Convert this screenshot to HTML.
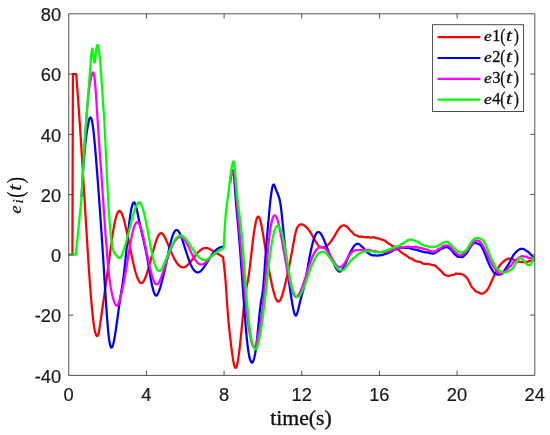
<!DOCTYPE html>
<html><head><meta charset="utf-8"><title>e_i(t)</title>
<style>
html,body{margin:0;padding:0;background:#fff;}
svg{display:block;}
.tick{font-family:"Liberation Sans",Arial,sans-serif;font-size:18.3px;fill:#1a1a1a;stroke:#1a1a1a;stroke-width:0.2px;}
.ser{font-family:"Liberation Serif","Times New Roman",serif;fill:#111;}
.thick{stroke:#111;stroke-width:0.33px;}
.curve{fill:none;stroke-width:2.25;stroke-linejoin:round;stroke-linecap:butt;}
</style></head>
<body>
<svg width="550" height="435" viewBox="0 0 550 435">
<rect x="0" y="0" width="550" height="435" fill="#fff"/>
<defs><clipPath id="ax"><rect x="68.75" y="13.8" width="466.05" height="361.6"/></clipPath></defs>
<g clip-path="url(#ax)">
<path class="curve" stroke="#ff0000" d="M72.4 254.6L72.9 74.0L76.2 74.0L76.7 80.6L77.2 87.3L77.7 94.0L78.2 100.9L78.7 107.8L79.2 115.0L79.7 122.3L80.2 129.7L80.7 137.3L81.2 145.1L81.7 152.9L82.2 160.9L82.7 169.0L83.2 177.1L83.7 185.3L84.2 193.6L84.7 201.9L85.2 210.2L85.7 218.4L86.2 226.6L86.7 234.8L87.2 242.8L87.7 250.7L88.2 258.4L88.7 266.0L89.2 273.3L89.7 280.4L90.2 287.1L90.7 293.6L91.2 299.7L91.7 305.5L92.2 310.8L92.7 315.6L93.2 320.0L93.7 323.8L94.2 327.2L94.7 330.0L95.2 332.3L95.7 334.0L96.2 335.2L96.7 335.9L97.2 336.0L97.7 335.6L98.2 334.5L98.7 332.7L99.2 330.2L99.7 327.1L100.2 323.6L100.8 319.9L101.3 316.1L101.8 312.5L102.3 308.9L102.8 305.3L103.3 301.8L103.8 298.3L104.3 294.9L104.8 291.4L105.3 288.0L105.8 284.5L106.3 280.9L106.8 277.4L107.3 273.7L107.8 270.0L108.3 266.3L108.8 262.4L109.3 258.6L109.8 254.8L110.3 251.0L110.8 247.3L111.3 243.6L111.8 240.1L112.3 236.7L112.8 233.4L113.3 230.3L113.8 227.4L114.3 224.8L114.8 222.3L115.3 220.1L115.8 218.0L116.3 216.3L116.8 214.7L117.3 213.4L117.8 212.4L118.3 211.6L118.8 211.1L119.3 210.9L119.8 211.0L120.3 211.3L120.8 211.8L121.3 212.6L121.8 213.6L122.3 214.8L122.8 216.2L123.3 217.7L123.8 219.4L124.3 221.3L124.8 223.2L125.3 225.2L125.8 227.4L126.3 229.6L126.8 231.9L127.3 234.2L127.8 236.6L128.3 239.0L128.8 241.5L129.3 243.9L129.8 246.4L130.3 248.9L130.8 251.3L131.3 253.8L131.8 256.2L132.3 258.5L132.8 260.8L133.3 263.1L133.8 265.2L134.3 267.3L134.8 269.3L135.3 271.2L135.8 273.0L136.3 274.6L136.8 276.1L137.3 277.5L137.8 278.8L138.3 279.9L138.8 280.8L139.3 281.6L139.8 282.2L140.3 282.7L140.8 283.0L141.3 283.0L141.8 282.9L142.3 282.7L142.8 282.2L143.3 281.6L143.8 280.9L144.3 280.0L144.8 278.9L145.3 277.8L145.8 276.5L146.3 275.2L146.8 273.7L147.3 272.1L147.8 270.5L148.3 268.8L148.8 267.0L149.3 265.2L149.9 263.4L150.4 261.5L150.9 259.6L151.4 257.6L151.9 255.7L152.4 253.8L152.9 251.9L153.4 250.1L153.9 248.2L154.4 246.5L154.9 244.8L155.4 243.2L155.9 241.6L156.4 240.2L156.9 238.8L157.4 237.6L157.9 236.5L158.4 235.5L158.9 234.7L159.4 234.1L159.9 233.6L160.4 233.3L160.9 233.1L161.4 233.2L161.9 233.4L162.4 233.8L162.9 234.3L163.4 234.9L163.9 235.7L164.4 236.5L164.9 237.4L165.4 238.4L165.9 239.5L166.4 240.6L166.9 241.7L167.4 242.9L167.9 244.1L168.4 245.3L168.9 246.5L169.4 247.7L169.9 248.9L170.4 250.1L170.9 251.3L171.4 252.4L171.9 253.6L172.4 254.7L172.9 255.8L173.4 256.9L173.9 257.9L174.4 258.9L174.9 259.8L175.4 260.7L175.9 261.5L176.4 262.3L176.9 263.1L177.4 263.7L177.9 264.4L178.4 264.9L178.9 265.4L179.4 265.9L179.9 266.3L180.4 266.6L180.9 266.9L181.4 267.1L181.9 267.3L182.4 267.4L182.9 267.4L183.4 267.4L183.9 267.3L184.4 267.1L184.9 266.9L185.4 266.7L185.9 266.4L186.4 266.0L186.9 265.6L187.4 265.2L187.9 264.7L188.4 264.2L188.9 263.7L189.4 263.1L189.9 262.6L190.4 262.0L190.9 261.4L191.4 260.7L191.9 260.1L192.4 259.4L192.9 258.8L193.4 258.1L193.9 257.5L194.4 256.8L194.9 256.2L195.4 255.5L195.9 254.9L196.4 254.3L196.9 253.7L197.4 253.1L197.9 252.5L198.4 252.0L199.0 251.5L199.5 251.0L200.0 250.5L200.5 250.1L201.0 249.7L201.5 249.4L202.0 249.1L202.5 248.8L203.0 248.6L203.5 248.4L204.0 248.2L204.5 248.1L205.0 248.0L205.5 248.0L206.0 248.0L206.5 248.0L207.0 248.1L207.5 248.2L208.0 248.3L208.5 248.5L209.0 248.7L209.5 249.0L210.0 249.2L210.5 249.5L211.0 249.8L211.5 250.1L212.0 250.4L212.5 250.7L213.0 251.0L213.5 251.3L214.0 251.6L214.5 251.9L215.0 252.2L215.5 252.5L216.0 252.8L216.5 253.1L217.0 253.4L217.5 253.7L218.0 254.0L218.5 254.3L219.0 254.6L219.5 254.9L220.0 255.2L220.5 255.5L221.0 255.8L221.5 256.1L222.0 256.4L222.5 256.7L223.0 257.0L223.5 261.0L224.0 265.2L224.5 269.7L225.0 274.7L225.5 280.4L226.0 287.0L226.5 294.4L227.0 302.0L227.5 309.0L228.0 315.2L228.5 321.0L229.0 326.2L229.5 331.0L230.0 335.6L230.5 340.0L231.0 344.3L231.5 348.4L232.0 352.3L232.5 355.9L233.0 359.2L233.5 362.0L234.0 364.4L234.5 366.2L235.0 367.4L235.5 368.0L236.0 367.8L236.5 366.9L237.0 365.3L237.5 363.1L238.0 360.4L238.5 357.2L239.0 353.5L239.5 349.4L240.0 345.0L240.5 340.3L241.0 335.4L241.5 330.4L242.0 325.2L242.5 320.1L243.0 315.0L243.5 310.1L244.0 305.4L244.5 301.0L245.0 296.9L245.5 293.2L246.0 290.0L246.5 287.3L247.0 284.9L247.5 282.6L248.0 280.0L248.5 277.0L249.0 273.6L249.5 269.8L250.0 265.8L250.5 261.5L251.0 257.2L251.5 252.8L252.0 248.4L252.5 244.1L253.0 240.0L253.5 236.1L254.0 232.5L254.5 229.2L255.0 226.2L255.5 223.6L256.0 221.3L256.5 219.5L257.0 218.0L257.5 217.1L258.0 216.5L258.5 216.5L259.0 217.0L259.5 218.0L260.0 219.4L260.5 221.1L261.0 223.2L261.5 225.6L262.0 228.2L262.5 231.0L263.0 233.9L263.5 236.9L264.0 240.0L264.5 243.1L265.0 246.2L265.5 249.2L266.0 252.3L266.5 255.3L267.0 258.3L267.5 261.2L268.0 264.1L268.5 267.0L269.0 269.8L269.5 272.5L270.0 275.2L270.5 277.8L271.0 280.3L271.5 282.7L272.0 285.0L272.5 287.2L273.0 289.3L273.5 291.3L274.0 293.1L274.5 294.8L275.0 296.4L275.5 297.7L276.0 298.9L276.5 299.9L277.0 300.7L277.5 301.2L278.0 301.5L278.5 301.6L279.0 301.4L279.5 301.0L280.0 300.4L280.5 299.5L281.0 298.5L281.5 297.3L282.0 295.9L282.5 294.3L283.0 292.7L283.5 290.9L284.0 289.0L284.5 287.0L285.0 285.0L285.5 282.9L286.0 280.8L286.5 278.6L287.0 276.4L287.5 274.1L288.0 271.8L288.5 269.4L289.0 267.0L289.5 264.5L290.0 262.0L290.5 259.4L291.0 256.8L291.5 254.2L292.0 251.5L292.5 248.8L293.0 246.0L293.5 243.2L294.0 240.4L294.5 237.7L295.0 235.2L295.5 233.0L296.0 231.0L296.5 229.4L297.0 228.1L297.5 227.1L298.0 226.4L298.5 225.8L299.0 225.3L299.5 224.9L300.0 224.6L300.5 224.4L301.0 224.3L301.5 224.3L302.0 224.4L302.5 224.5L303.0 224.7L303.5 225.0L304.0 225.3L304.5 225.6L305.0 226.0L305.5 226.4L306.0 226.9L306.5 227.3L307.0 227.9L307.5 228.4L308.0 229.0L308.5 229.6L309.0 230.3L309.5 231.0L310.0 231.7L310.5 232.5L311.0 233.3L311.5 234.1L312.0 235.0L312.5 235.9L313.0 236.8L313.5 237.7L314.0 238.6L314.5 239.5L315.0 240.4L315.5 241.2L316.0 242.1L316.5 242.9L317.0 243.7L317.5 244.4L318.0 245.1L318.5 245.7L319.0 246.2L319.5 246.6L320.0 247.0L320.5 247.3L321.0 247.5L321.5 247.6L322.0 247.6L322.5 247.6L323.0 247.6L323.5 247.4L324.0 247.3L324.5 247.1L325.0 246.9L325.5 246.7L326.0 246.4L326.5 246.1L327.0 245.7L327.5 245.3L328.0 244.9L328.5 244.4L329.0 243.9L329.5 243.3L330.0 242.7L330.5 242.1L331.0 241.4L331.5 240.7L332.0 240.0L332.5 239.2L333.0 238.4L333.5 237.6L334.0 236.8L334.5 235.9L335.0 235.1L335.5 234.2L336.0 233.3L336.5 232.4L337.0 231.6L337.5 230.8L338.0 230.0L338.5 229.3L339.0 228.6L339.5 227.9L340.0 227.4L340.5 226.9L341.0 226.4L341.5 226.1L342.0 225.8L342.5 225.5L343.0 225.4L343.5 225.3L344.0 225.3L344.5 225.4L345.0 225.6L345.5 225.9L346.0 226.2L346.5 226.5L347.0 226.9L347.5 227.3L348.0 227.7L348.5 228.2L349.0 228.8L349.5 229.5L350.0 230.1L350.5 230.7L351.0 231.2L351.5 231.7L352.0 232.1L352.5 232.6L353.0 233.1L353.5 233.7L354.0 234.2L354.5 234.7L355.0 235.0L355.5 235.2L356.0 235.4L356.5 235.5L357.0 235.6L357.5 235.9L358.0 236.2L358.5 236.5L359.0 236.8L359.5 236.8L360.0 236.8L360.5 236.7L361.0 236.7L361.5 236.6L362.0 236.7L362.5 236.8L363.0 236.8L363.5 236.9L364.0 237.0L364.5 237.1L365.0 237.2L365.5 237.3L366.0 237.4L366.5 237.3L367.0 237.3L367.5 237.2L368.0 237.1L368.5 237.2L369.0 237.3L369.5 237.4L370.0 237.5L370.5 237.5L371.0 237.5L371.5 237.4L372.0 237.4L372.5 237.4L373.0 237.4L373.5 237.4L374.0 237.4L374.5 237.4L375.0 237.6L375.5 237.7L376.0 237.9L376.5 238.1L377.0 238.3L377.5 238.4L378.0 238.5L378.5 238.6L379.0 238.7L379.5 238.8L380.0 239.0L380.5 239.2L381.0 239.4L381.5 239.5L382.0 239.7L382.5 239.8L383.0 239.9L383.5 240.1L384.0 240.3L384.5 240.6L385.0 240.8L385.5 241.1L386.0 241.5L386.5 241.9L387.0 242.4L387.5 242.8L388.0 243.2L388.5 243.5L389.0 243.8L389.5 244.1L390.0 244.4L390.5 244.7L391.0 245.0L391.5 245.4L392.0 245.7L392.5 245.9L393.0 246.1L393.5 246.3L394.0 246.5L394.5 246.8L395.0 247.1L395.5 247.3L396.0 247.6L396.5 247.9L397.0 248.4L397.5 248.8L398.0 249.3L398.5 249.8L399.0 250.3L399.5 250.7L400.0 251.1L400.5 251.6L401.0 252.0L401.5 252.4L402.0 252.8L402.5 253.2L403.0 253.6L403.5 253.9L404.0 254.2L404.5 254.4L405.0 254.7L405.5 255.0L406.0 255.3L406.5 255.7L407.0 256.1L407.5 256.4L408.0 256.8L408.5 257.2L409.0 257.6L409.5 258.0L410.0 258.2L410.5 258.3L411.0 258.5L411.5 258.6L412.0 258.7L412.5 259.1L413.0 259.5L413.5 259.8L414.0 260.2L414.5 260.5L415.0 260.8L415.5 261.0L416.0 261.2L416.5 261.4L417.0 261.5L417.5 261.5L418.0 261.6L418.5 261.6L419.0 261.7L419.5 261.8L420.0 262.0L420.5 262.1L421.0 262.3L421.5 262.6L422.0 263.0L422.5 263.3L423.0 263.6L423.5 263.7L424.0 263.8L424.5 263.8L425.0 263.9L425.5 263.9L426.0 263.9L426.5 263.9L427.0 263.9L427.5 263.9L428.0 264.0L428.5 264.0L429.0 264.1L429.5 264.2L430.0 264.3L430.5 264.5L431.0 264.7L431.5 264.9L432.0 265.0L432.5 265.1L433.0 265.1L433.5 265.2L434.0 265.3L434.5 265.5L435.0 265.7L435.5 266.0L436.0 266.3L436.5 266.7L437.0 267.2L437.5 267.7L438.0 268.3L438.5 268.8L439.0 269.2L439.5 269.6L440.0 270.0L440.5 270.4L441.0 270.9L441.5 271.5L442.0 272.0L442.5 272.6L443.0 273.1L443.5 273.6L444.0 274.1L444.5 274.6L445.0 275.0L445.5 275.2L446.0 275.4L446.5 275.5L447.0 275.6L447.5 275.7L448.0 275.8L448.5 275.9L449.0 275.8L449.5 275.8L450.0 275.6L450.5 275.5L451.0 275.3L451.5 275.1L452.0 275.0L452.5 275.0L453.0 274.9L453.5 274.9L454.0 274.7L454.5 274.4L455.0 274.1L455.5 273.8L456.0 273.5L456.5 273.6L457.0 273.7L457.5 273.8L458.0 273.9L458.5 273.9L459.0 273.9L459.5 273.8L460.0 273.8L460.5 273.8L461.0 274.0L461.5 274.1L462.0 274.3L462.5 274.5L463.0 274.8L463.5 275.0L464.0 275.3L464.5 275.7L465.0 276.1L465.5 276.5L466.0 277.0L466.5 277.5L467.0 278.1L467.5 278.9L468.0 279.8L468.5 280.7L469.0 281.6L469.5 282.6L470.0 283.6L470.5 284.7L471.0 285.7L471.5 286.6L472.0 287.3L472.5 287.8L473.0 288.3L473.5 288.8L474.0 289.4L474.5 290.0L475.0 290.6L475.5 291.1L476.0 291.5L476.5 291.7L477.0 292.0L477.5 292.1L478.0 292.3L478.5 292.6L479.0 292.8L479.5 293.1L480.0 293.2L480.5 293.4L481.0 293.6L481.5 293.6L482.0 293.7L482.5 293.7L483.0 293.4L483.5 293.1L484.0 292.8L484.5 292.4L485.0 292.1L485.5 291.7L486.0 291.3L486.5 290.8L487.0 290.2L487.5 289.5L488.0 288.8L488.5 287.9L489.0 287.0L489.5 286.0L490.0 284.8L490.5 283.7L491.0 282.5L491.5 281.4L492.0 280.3L492.5 279.2L493.0 278.1L493.5 277.0L494.0 275.8L494.5 274.7L495.0 273.6L495.5 272.6L496.0 271.7L496.5 270.8L497.0 270.0L497.5 269.2L498.0 268.4L498.5 267.5L499.0 266.7L499.5 265.9L500.0 265.1L500.5 264.5L501.0 264.0L501.5 263.5L502.0 263.0L502.5 262.5L503.0 262.0L503.5 261.5L504.0 261.1L504.5 260.7L505.0 260.3L505.5 259.9L506.0 259.6L506.5 259.3L507.0 259.1L507.5 258.9L508.0 258.7L508.5 258.7L509.0 258.6L509.5 258.6L510.0 258.6L510.5 258.7L511.0 258.8L511.5 258.9L512.0 259.1L512.5 259.3L513.0 259.6L513.5 259.8L514.0 259.9L514.5 260.0L515.0 260.2L515.5 260.3L516.0 260.6L516.5 260.9L517.0 261.2L517.5 261.4L518.0 261.6L518.5 261.6L519.0 261.7L519.5 261.8L520.0 261.8L520.5 261.9L521.0 262.0L521.5 262.0L522.0 262.1L522.5 262.1L523.0 262.2L523.5 262.2L524.0 262.2L524.5 262.3L525.0 262.3L525.5 262.4L526.0 262.4L526.5 262.3L527.0 262.1L527.5 261.8L528.0 261.6L528.5 261.3L529.0 261.2L529.5 261.1L530.0 261.1L530.5 261.0L531.0 260.9L531.5 260.8L532.0 260.6L532.5 260.5L533.0 260.3L533.5 260.0L534.0 259.8L534.5 259.5"/>
<path class="curve" stroke="#0000ff" d="M81.5 197.0L82.0 188.2L82.5 179.8L83.0 172.0L83.5 165.0L84.0 158.8L84.5 153.0L85.0 147.6L85.5 142.4L86.0 137.9L86.5 134.2L87.0 130.9L87.5 127.9L88.0 124.9L88.5 122.2L89.0 119.9L89.5 118.5L90.0 117.7L90.5 117.5L91.0 117.9L91.5 119.0L92.0 120.9L92.5 123.7L93.0 127.1L93.5 131.2L94.0 135.9L94.5 141.0L95.0 146.5L95.5 152.3L96.0 158.4L96.5 164.6L97.0 170.9L97.5 177.4L98.0 184.0L98.5 190.7L99.0 197.5L99.5 204.4L100.0 211.4L100.5 218.5L101.0 225.7L101.5 233.0L102.0 240.4L102.5 247.9L103.0 255.6L103.5 263.4L104.0 271.3L104.5 279.4L105.0 287.6L105.6 295.7L106.1 303.7L106.6 311.3L107.1 318.4L107.6 324.9L108.1 330.6L108.6 335.4L109.1 339.4L109.6 342.6L110.1 344.9L110.6 346.5L111.1 347.4L111.6 347.6L112.1 347.2L112.6 346.2L113.1 344.6L113.6 342.6L114.1 340.3L114.6 337.5L115.1 334.6L115.6 331.4L116.1 328.0L116.6 324.5L117.1 320.9L117.6 317.3L118.1 313.6L118.6 309.9L119.1 306.3L119.6 302.8L120.1 299.5L120.6 296.2L121.1 293.1L121.6 290.0L122.1 286.8L122.6 283.5L123.1 280.0L123.6 276.3L124.1 272.3L124.6 267.9L125.1 263.2L125.6 258.3L126.1 253.3L126.6 248.2L127.1 243.1L127.6 238.1L128.1 233.2L128.6 228.5L129.1 224.1L129.6 220.1L130.1 216.4L130.6 213.1L131.1 210.2L131.6 207.7L132.1 205.7L132.6 204.1L133.1 203.1L133.6 202.5L134.1 202.4L134.6 202.9L135.1 203.8L135.6 205.2L136.1 206.8L136.6 208.8L137.1 211.0L137.6 213.3L138.1 215.7L138.6 218.2L139.1 220.6L139.6 222.9L140.1 225.2L140.6 227.5L141.1 229.7L141.6 231.9L142.1 234.1L142.6 236.2L143.1 238.4L143.6 240.6L144.1 242.8L144.6 245.0L145.1 247.3L145.6 249.7L146.1 252.1L146.6 254.6L147.1 257.3L147.6 260.0L148.1 262.8L148.6 265.8L149.1 268.8L149.6 271.8L150.1 274.8L150.6 277.7L151.1 280.6L151.6 283.2L152.1 285.7L152.7 287.9L153.2 289.9L153.7 291.6L154.2 293.0L154.7 294.2L155.2 295.0L155.7 295.5L156.2 295.6L156.7 295.4L157.2 294.9L157.7 294.1L158.2 293.1L158.7 291.9L159.2 290.5L159.7 289.0L160.2 287.5L160.7 285.8L161.2 284.1L161.7 282.3L162.2 280.5L162.7 278.6L163.2 276.6L163.7 274.5L164.2 272.4L164.7 270.2L165.2 268.0L165.7 265.6L166.2 263.2L166.7 260.8L167.2 258.3L167.7 255.8L168.2 253.4L168.7 251.0L169.2 248.6L169.7 246.4L170.2 244.2L170.7 242.2L171.2 240.3L171.7 238.6L172.2 237.0L172.7 235.5L173.2 234.3L173.7 233.1L174.2 232.2L174.7 231.4L175.2 230.7L175.7 230.3L176.2 230.0L176.7 230.0L177.2 230.1L177.7 230.4L178.2 230.9L178.7 231.5L179.2 232.3L179.7 233.3L180.2 234.3L180.7 235.5L181.2 236.8L181.7 238.1L182.2 239.5L182.7 241.0L183.2 242.6L183.7 244.1L184.2 245.7L184.7 247.3L185.2 248.8L185.7 250.4L186.2 252.0L186.7 253.5L187.2 255.0L187.7 256.5L188.2 257.9L188.7 259.3L189.2 260.7L189.7 262.0L190.2 263.2L190.7 264.4L191.2 265.5L191.7 266.5L192.2 267.4L192.7 268.3L193.2 269.1L193.7 269.8L194.2 270.4L194.7 270.9L195.2 271.4L195.7 271.8L196.2 272.0L196.7 272.3L197.2 272.4L197.7 272.4L198.2 272.4L198.7 272.2L199.2 272.0L199.7 271.7L200.3 271.4L200.8 271.0L201.3 270.5L201.8 270.0L202.3 269.4L202.8 268.8L203.3 268.1L203.8 267.4L204.3 266.7L204.8 265.9L205.3 265.2L205.8 264.4L206.3 263.6L206.8 262.8L207.3 262.0L207.8 261.1L208.3 260.3L208.8 259.5L209.3 258.7L209.8 257.9L210.3 257.2L210.8 256.4L211.3 255.6L211.8 254.9L212.3 254.2L212.8 253.5L213.3 252.9L213.8 252.3L214.3 251.7L214.8 251.1L215.3 250.6L215.8 250.1L216.3 249.7L216.8 249.3L217.3 248.9L217.8 248.6L218.3 248.2L218.8 248.0L219.3 247.7L219.8 247.5L220.3 247.3L220.8 247.1L221.3 247.0L221.8 246.9L222.3 246.8L222.8 246.7L223.3 246.6L223.8 246.5M230.1 183.0L230.6 178.6L231.1 175.0L231.6 172.6L232.1 171.1L232.6 170.5L233.1 170.9L233.6 173.0L234.1 177.5L234.6 183.6L235.1 190.5L235.6 197.4L236.1 203.9L236.6 209.8L237.1 215.2L237.6 220.5L238.1 225.8L238.6 231.3L239.1 237.1L239.6 243.3L240.1 249.8L240.6 256.4L241.1 263.3L241.6 270.3L242.1 277.4L242.6 284.5L243.1 291.7L243.6 298.7L244.1 305.6L244.6 312.4L245.1 318.9L245.6 325.1L246.1 330.9L246.6 336.3L247.1 341.1L247.6 345.5L248.1 349.4L248.6 352.7L249.1 355.5L249.6 357.9L250.1 359.7L250.6 361.1L251.1 362.0L251.6 362.5L252.1 362.6L252.6 362.2L253.1 361.4L253.6 360.1L254.1 358.5L254.6 356.3L255.1 353.8L255.6 350.7L256.1 347.2L256.6 343.2L257.1 338.7L257.6 333.8L258.1 328.6L258.6 323.4L259.1 318.1L259.6 313.1L260.1 308.5L260.6 304.5L261.1 301.2L261.6 298.5L262.1 295.9L262.6 292.8L263.1 288.7L263.6 283.2L264.1 276.6L264.6 269.5L265.1 262.1L265.6 254.8L266.1 248.1L266.6 242.0L267.1 236.3L267.6 230.6L268.1 224.6L268.7 218.5L269.2 212.5L269.7 207.0L270.2 202.1L270.7 197.8L271.2 194.0L271.7 190.7L272.2 187.9L272.7 185.8L273.2 184.7L273.7 184.5L274.2 185.1L274.7 186.1L275.2 187.4L275.7 188.7L276.2 190.1L276.7 191.4L277.2 192.6L277.7 193.8L278.2 195.0L278.7 196.4L279.2 198.1L279.7 200.0L280.2 202.5L280.7 205.6L281.2 209.5L281.7 213.9L282.2 218.6L282.7 223.6L283.2 228.7L283.7 233.8L284.2 238.8L284.7 243.8L285.2 248.7L285.7 253.5L286.2 258.2L286.7 262.8L287.2 267.2L287.7 271.5L288.2 275.6L288.7 279.5L289.2 283.3L289.7 286.9L290.2 290.4L290.7 293.8L291.2 297.0L291.7 300.1L292.2 303.1L292.7 305.9L293.2 308.5L293.7 310.8L294.2 312.8L294.7 314.3L295.2 315.2L295.7 315.6L296.2 315.4L296.7 314.5L297.2 313.3L297.7 311.6L298.2 309.7L298.7 307.6L299.2 305.5L299.7 303.3L300.2 301.2L300.7 299.3L301.2 297.5L301.7 295.7L302.2 293.9L302.7 292.1L303.2 290.3L303.7 288.3L304.2 286.1L304.7 283.8L305.2 281.3L305.7 278.7L306.2 276.1L306.7 273.3L307.2 270.5L307.7 267.6L308.2 264.8L308.7 262.0L309.2 259.2L309.7 256.5L310.2 254.0L310.7 251.5L311.2 249.2L311.7 247.0L312.2 244.9L312.7 243.0L313.2 241.2L313.7 239.6L314.2 238.1L314.7 236.7L315.2 235.5L315.7 234.5L316.2 233.7L316.7 233.0L317.2 232.4L317.7 232.1L318.2 232.0L318.7 232.0L319.2 232.2L319.7 232.5L320.2 233.0L320.7 233.6L321.2 234.3L321.7 235.1L322.2 236.0L322.7 237.0L323.2 238.1L323.7 239.3L324.2 240.5L324.7 241.7L325.2 243.0L325.7 244.3L326.2 245.6L326.7 246.8L327.2 248.1L327.7 249.4L328.2 250.7L328.7 251.9L329.2 253.1L329.7 254.3L330.2 255.4L330.7 256.6L331.2 257.7L331.7 258.9L332.2 260.0L332.7 261.1L333.2 262.3L333.7 263.4L334.2 264.6L334.7 265.7L335.2 266.7L335.7 267.5L336.2 268.3L336.7 269.0L337.2 269.6L337.7 270.3L338.2 270.8L338.7 271.3L339.2 271.6L339.7 271.6L340.2 271.5L340.7 271.3L341.2 270.8L341.7 270.3L342.2 269.7L342.7 269.0L343.2 268.2L343.7 267.3L344.2 266.4L344.8 265.3L345.3 264.2L345.8 263.0L346.3 261.8L346.8 260.6L347.3 259.3L347.8 258.0L348.3 256.8L348.8 255.7L349.3 254.6L349.8 253.5L350.3 252.5L350.8 251.5L351.3 250.6L351.8 249.6L352.3 248.8L352.8 247.9L353.3 247.2L353.8 246.4L354.3 245.8L354.8 245.2L355.3 244.8L355.8 244.4L356.3 244.1L356.8 243.9L357.3 243.8L357.8 243.8L358.3 243.9L358.8 244.0L359.3 244.3L359.8 244.7L360.3 245.1L360.8 245.7L361.3 246.2L361.8 246.6L362.3 247.0L362.8 247.4L363.3 247.9L363.8 248.3L364.3 248.9L364.8 249.5L365.3 250.1L365.8 250.6L366.3 251.2L366.8 251.8L367.3 252.4L367.8 252.9L368.3 253.3L368.8 253.6L369.3 253.9L369.8 254.2L370.3 254.5L370.8 254.7L371.3 254.9L371.8 255.2L372.3 255.3L372.8 255.4L373.3 255.4L373.8 255.3L374.3 255.3L374.8 255.3L375.3 255.4L375.8 255.5L376.3 255.5L376.8 255.6L377.3 255.5L377.8 255.5L378.3 255.5L378.8 255.4L379.3 255.4L379.8 255.3L380.3 255.3L380.8 255.3L381.3 255.2L381.8 255.1L382.3 255.0L382.8 254.8L383.3 254.7L383.8 254.5L384.3 254.3L384.8 254.1L385.3 253.9L385.8 253.7L386.3 253.6L386.8 253.5L387.3 253.3L387.8 253.2L388.3 253.0L388.8 252.7L389.3 252.5L389.8 252.2L390.3 252.0L390.8 251.8L391.3 251.5L391.8 251.3L392.3 251.0L392.8 250.7L393.3 250.4L393.8 250.0L394.3 249.7L394.8 249.6L395.3 249.5L395.8 249.4L396.3 249.3L396.8 249.2L397.3 249.0L397.8 248.8L398.3 248.6L398.8 248.4L399.3 248.2L399.8 248.0L400.3 247.8L400.8 247.7L401.3 247.6L401.8 247.5L402.3 247.5L402.8 247.5L403.3 247.5L403.8 247.6L404.3 247.7L404.8 247.9L405.3 248.0L405.8 248.0L406.3 247.9L406.8 247.8L407.3 247.8L407.8 247.8L408.3 247.9L408.8 248.0L409.3 248.1L409.8 248.2L410.3 248.4L410.8 248.5L411.3 248.7L411.8 248.9L412.3 249.0L412.8 249.2L413.3 249.3L413.8 249.4L414.3 249.5L414.8 249.5L415.3 249.5L415.8 249.5L416.3 249.5L416.8 249.7L417.3 249.9L417.8 250.2L418.3 250.4L418.8 250.6L419.3 250.7L419.8 250.9L420.4 251.0L420.9 251.2L421.4 251.3L421.9 251.5L422.4 251.7L422.9 251.8L423.4 251.9L423.9 252.0L424.4 252.1L424.9 252.2L425.4 252.3L425.9 252.3L426.4 252.3L426.9 252.3L427.4 252.4L427.9 252.5L428.4 252.7L428.9 252.9L429.4 253.0L429.9 253.1L430.4 253.2L430.9 253.3L431.4 253.4L431.9 253.5L432.4 253.5L432.9 253.5L433.4 253.5L433.9 253.5L434.4 253.3L434.9 253.0L435.4 252.7L435.9 252.3L436.4 252.0L436.9 251.7L437.4 251.5L437.9 251.2L438.4 250.9L438.9 250.5L439.4 250.1L439.9 249.7L440.4 249.3L440.9 249.0L441.4 248.8L441.9 248.6L442.4 248.4L442.9 248.2L443.4 247.9L443.9 247.7L444.4 247.5L444.9 247.3L445.4 247.2L445.9 247.1L446.4 247.1L446.9 247.1L447.4 247.2L447.9 247.4L448.4 247.6L448.9 247.9L449.4 248.3L449.9 248.6L450.4 249.1L450.9 249.5L451.4 250.0L451.9 250.6L452.4 251.3L452.9 252.0L453.4 252.7L453.9 253.4L454.4 253.9L454.9 254.4L455.4 254.8L455.9 255.3L456.4 255.7L456.9 256.0L457.4 256.4L457.9 256.7L458.4 256.9L458.9 256.9L459.4 256.9L459.9 256.9L460.4 256.8L460.9 257.0L461.4 257.1L461.9 257.1L462.4 257.1L462.9 256.9L463.4 256.5L463.9 256.0L464.4 255.5L464.9 254.9L465.4 254.6L465.9 254.1L466.4 253.6L466.9 253.0L467.4 252.2L467.9 251.3L468.4 250.4L468.9 249.5L469.4 248.7L469.9 247.9L470.4 247.2L470.9 246.5L471.4 245.8L471.9 245.1L472.4 244.4L472.9 243.8L473.4 243.3L473.9 243.0L474.4 242.9L474.9 242.9L475.4 243.0L475.9 243.1L476.4 243.3L476.9 243.4L477.4 243.6L477.9 243.8L478.4 244.0L478.9 244.2L479.4 244.4L479.9 244.7L480.4 245.1L480.9 245.7L481.4 246.4L481.9 247.2L482.4 248.1L482.9 249.0L483.4 250.1L483.9 251.2L484.4 252.5L484.9 253.7L485.4 254.9L485.9 256.2L486.4 257.5L486.9 258.8L487.4 260.1L487.9 261.4L488.4 262.6L488.9 263.8L489.4 264.9L489.9 266.0L490.4 267.0L490.9 268.0L491.4 268.8L491.9 269.7L492.4 270.5L492.9 271.2L493.4 271.9L493.9 272.5L494.4 273.0L494.9 273.4L495.4 273.8L495.9 274.1L496.4 274.3L497.0 274.4L497.5 274.5L498.0 274.6L498.5 274.7L499.0 274.7L499.5 274.7L500.0 274.6L500.5 274.5L501.0 274.3L501.5 274.0L502.0 273.7L502.5 273.3L503.0 272.6L503.5 271.9L504.0 271.2L504.5 270.4L505.0 269.7L505.5 269.0L506.0 268.2L506.5 267.3L507.0 266.6L507.5 265.8L508.0 265.1L508.5 264.3L509.0 263.4L509.5 262.5L510.0 261.5L510.5 260.5L511.0 259.6L511.5 258.6L512.0 257.6L512.5 256.7L513.0 255.7L513.5 255.0L514.0 254.3L514.5 253.7L515.0 253.2L515.5 252.6L516.0 252.1L516.5 251.6L517.0 251.1L517.5 250.7L518.0 250.3L518.5 249.9L519.0 249.6L519.5 249.3L520.0 249.1L520.5 248.9L521.0 248.8L521.5 248.8L522.0 248.8L522.5 248.8L523.0 248.9L523.5 249.0L524.0 249.2L524.5 249.5L525.0 249.8L525.5 250.2L526.0 250.6L526.5 250.9L527.0 251.2L527.5 251.5L528.0 251.8L528.5 252.1L529.0 252.6L529.5 253.1L530.0 253.7L530.5 254.2L531.0 254.8L531.5 255.3L532.0 255.8L532.5 256.3L533.0 256.8L533.5 257.2L534.0 257.7L534.5 258.1"/>
<path class="curve" stroke="#ff00ff" d="M84.2 150.0L84.7 142.6L85.2 135.2L85.7 128.0L86.2 121.0L86.7 114.3L87.2 108.0L87.7 102.1L88.2 96.8L88.7 92.2L89.2 88.3L89.7 84.9L90.2 82.0L90.7 79.4L91.2 77.0L91.7 74.9L92.2 73.3L92.7 72.3L93.2 72.3L93.7 73.3L94.2 75.6L94.7 79.2L95.2 84.1L95.7 90.5L96.2 97.8L96.7 105.7L97.2 113.6L97.7 121.4L98.2 128.9L98.7 136.3L99.2 143.6L99.7 150.8L100.2 157.9L100.7 165.0L101.2 172.0L101.7 179.1L102.2 186.2L102.7 193.3L103.2 200.5L103.7 207.8L104.2 215.1L104.7 222.4L105.2 229.6L105.7 236.6L106.3 243.4L106.8 250.0L107.3 256.3L107.8 262.2L108.3 267.7L108.8 272.7L109.3 277.2L109.8 281.2L110.3 284.8L110.8 287.9L111.3 290.6L111.8 293.0L112.3 295.2L112.8 297.1L113.3 298.9L113.8 300.6L114.3 302.1L114.8 303.3L115.3 304.3L115.8 305.1L116.3 305.5L116.8 305.7L117.3 305.4L117.8 304.8L118.3 303.9L118.8 302.7L119.3 301.3L119.8 299.6L120.3 297.8L120.8 295.9L121.3 293.8L121.8 291.7L122.3 289.5L122.8 287.2L123.3 284.8L123.8 282.3L124.3 279.7L124.8 277.0L125.3 274.2L125.8 271.3L126.3 268.3L126.8 265.2L127.3 262.1L127.8 259.0L128.3 255.8L128.8 252.7L129.3 249.7L129.8 246.7L130.3 243.8L130.8 241.0L131.3 238.4L131.8 236.0L132.3 233.7L132.8 231.6L133.3 229.6L133.8 227.9L134.3 226.4L134.8 225.1L135.3 224.0L135.8 223.1L136.3 222.5L136.8 222.1L137.3 222.0L137.8 222.1L138.3 222.5L138.8 223.1L139.3 224.0L139.8 225.0L140.3 226.3L140.8 227.7L141.3 229.3L141.8 231.1L142.3 233.0L142.8 235.0L143.3 237.1L143.8 239.3L144.3 241.5L144.8 243.8L145.3 246.2L145.8 248.6L146.3 251.0L146.8 253.4L147.3 255.8L147.8 258.1L148.3 260.5L148.8 262.8L149.3 265.1L149.8 267.3L150.4 269.4L150.9 271.4L151.4 273.3L151.9 275.2L152.4 276.9L152.9 278.4L153.4 279.8L153.9 281.1L154.4 282.1L154.9 283.0L155.4 283.7L155.9 284.1L156.4 284.4L156.9 284.4L157.4 284.2L157.9 283.8L158.4 283.2L158.9 282.4L159.4 281.5L159.9 280.5L160.4 279.3L160.9 278.1L161.4 276.7L161.9 275.3L162.4 273.9L162.9 272.5L163.4 271.0L163.9 269.5L164.4 267.9L164.9 266.4L165.4 264.9L165.9 263.3L166.4 261.8L166.9 260.3L167.4 258.8L167.9 257.3L168.4 255.9L168.9 254.4L169.4 253.0L169.9 251.7L170.4 250.4L170.9 249.1L171.4 247.9L171.9 246.7L172.4 245.6L172.9 244.6L173.4 243.6L173.9 242.7L174.4 241.8L174.9 241.0L175.4 240.3L175.9 239.7L176.4 239.1L176.9 238.6L177.4 238.1L177.9 237.7L178.4 237.4L178.9 237.2L179.4 237.1L179.9 237.0L180.4 237.0L180.9 237.1L181.4 237.3L181.9 237.5L182.4 237.8L182.9 238.2L183.4 238.6L183.9 239.2L184.4 239.7L184.9 240.4L185.4 241.1L185.9 241.9L186.4 242.7L186.9 243.6L187.4 244.6L187.9 245.5L188.4 246.5L188.9 247.6L189.4 248.6L189.9 249.7L190.4 250.8L190.9 251.8L191.4 252.9L191.9 253.9L192.4 254.9L192.9 255.9L193.4 256.8L193.9 257.7L194.5 258.5L195.0 259.3L195.5 260.1L196.0 260.8L196.5 261.5L197.0 262.1L197.5 262.6L198.0 263.1L198.5 263.5L199.0 263.9L199.5 264.2L200.0 264.4L200.5 264.5L201.0 264.6L201.5 264.6L202.0 264.5L202.5 264.3L203.0 264.1L203.5 263.9L204.0 263.6L204.5 263.3L205.0 262.9L205.5 262.5L206.0 262.0L206.5 261.6L207.0 261.1L207.5 260.6L208.0 260.1L208.5 259.5L209.0 259.0L209.5 258.5L210.0 258.0L210.5 257.5L211.0 257.0L211.5 256.5L212.0 256.0L212.5 255.6L213.0 255.2L213.5 254.8L214.0 254.4L214.5 254.0L215.0 253.7L215.5 253.3L216.0 253.0M230.4 180.0L230.9 177.4L231.4 175.2L231.9 173.8L232.4 172.6L232.9 171.7L233.4 171.5L233.9 172.2L234.4 174.3L234.9 178.6L235.4 184.2L235.9 190.3L236.4 196.4L236.9 202.4L237.4 208.1L237.9 213.7L238.4 219.1L238.9 224.5L239.4 230.0L239.9 235.7L240.4 241.5L240.9 247.4L241.4 253.3L241.9 259.3L242.4 265.3L242.9 271.2L243.4 277.1L243.9 282.8L244.4 288.4L244.9 293.8L245.4 299.0L245.9 304.0L246.4 308.7L246.9 313.2L247.4 317.3L247.9 321.3L248.4 325.0L248.9 328.4L249.4 331.6L249.9 334.5L250.4 337.1L250.9 339.5L251.4 341.6L251.9 343.4L252.4 344.9L252.9 346.0L253.4 346.7L253.9 347.0L254.4 346.9L254.9 346.5L255.4 345.6L255.9 344.4L256.4 342.8L256.9 341.0L257.4 339.0L257.9 336.8L258.4 334.5L258.9 332.0L259.4 329.4L259.9 326.6L260.4 323.6L260.9 320.4L261.4 317.0L261.9 313.4L262.4 309.5L262.9 305.3L263.4 300.7L263.9 295.9L264.4 290.7L264.9 285.2L265.4 279.5L265.9 273.7L266.4 267.9L266.9 262.1L267.4 256.4L267.9 250.9L268.4 245.7L268.9 240.8L269.4 236.4L269.9 232.4L270.4 228.9L270.9 225.8L271.4 223.2L271.9 220.9L272.4 219.0L272.9 217.6L273.4 216.5L273.9 215.7L274.4 215.3L274.9 215.3L275.4 215.6L275.9 216.2L276.4 217.1L276.9 218.3L277.4 219.7L277.9 221.4L278.4 223.3L278.9 225.4L279.4 227.7L279.9 230.1L280.4 232.6L280.9 235.2L281.4 237.8L281.9 240.6L282.4 243.3L282.9 246.2L283.4 249.0L283.9 251.9L284.4 254.7L284.9 257.5L285.4 260.3L285.9 263.1L286.4 265.8L286.9 268.5L287.4 271.1L287.9 273.6L288.4 276.1L288.9 278.4L289.4 280.6L289.9 282.8L290.4 284.8L290.9 286.7L291.4 288.4L291.9 290.0L292.4 291.5L292.9 292.8L293.4 294.0L293.9 295.0L294.4 295.8L294.9 296.4L295.4 296.8L295.9 297.0L296.4 297.0L296.9 296.7L297.4 296.3L297.9 295.7L298.4 295.0L298.9 294.1L299.4 293.2L299.9 292.2L300.4 291.2L300.9 290.1L301.4 288.9L301.9 287.7L302.4 286.4L302.9 285.0L303.4 283.7L303.9 282.2L304.4 280.7L304.9 279.2L305.4 277.7L305.9 276.1L306.4 274.5L306.9 273.0L307.4 271.4L307.9 269.8L308.4 268.2L308.9 266.7L309.4 265.1L309.9 263.7L310.4 262.2L310.9 260.8L311.4 259.5L311.9 258.2L312.4 257.0L312.9 255.8L313.4 254.8L313.9 253.7L314.4 252.8L314.9 251.9L315.4 251.1L315.9 250.4L316.4 249.8L316.9 249.2L317.4 248.7L317.9 248.2L318.4 247.8L318.9 247.5L319.4 247.2L319.9 247.0L320.4 246.9L320.9 246.8L321.4 246.8L321.9 246.9L322.4 247.0L322.9 247.2L323.4 247.4L323.9 247.8L324.4 248.1L324.9 248.5L325.4 249.0L325.9 249.5L326.4 250.1L326.9 250.7L327.4 251.3L327.9 251.9L328.4 252.6L328.9 253.4L329.4 254.2L329.9 255.0L330.4 255.8L330.9 256.6L331.4 257.4L331.9 258.2L332.4 259.1L332.9 259.9L333.4 260.8L333.9 261.6L334.4 262.5L334.9 263.3L335.4 264.0L335.9 264.7L336.4 265.2L336.9 265.8L337.4 266.2L337.9 266.5L338.4 266.7L338.9 266.9L339.4 267.0L339.9 267.0L340.4 267.0L340.9 266.8L341.4 266.6L341.9 266.3L342.4 265.9L342.9 265.4L343.4 264.9L343.9 264.3L344.4 263.5L344.9 262.7L345.4 261.8L345.9 261.0L346.4 260.1L346.9 259.2L347.4 258.4L347.9 257.5L348.4 256.7L348.9 255.9L349.4 255.2L349.9 254.4L350.4 253.8L350.9 253.2L351.4 252.6L351.9 252.1L352.4 251.6L352.9 251.2L353.4 251.0L353.9 250.7L354.4 250.6L354.9 250.4L355.4 250.3L355.9 250.2L356.4 250.1L356.9 250.0L357.4 250.0L357.9 250.1L358.4 250.1L358.9 250.2L359.4 250.2L359.9 250.1L360.4 250.1L360.9 250.1L361.4 250.1L361.9 250.0L362.4 249.9L362.9 249.9L363.4 249.8L363.9 249.8L364.4 249.9L364.9 250.0L365.4 250.1L365.9 250.2L366.4 250.1L366.9 250.0L367.4 249.9L367.9 249.8L368.4 249.9L368.9 250.1L369.4 250.3L369.9 250.4L370.4 250.6L370.9 250.7L371.4 250.8L371.9 250.9L372.4 251.0L372.9 251.0L373.4 251.0L373.9 250.9L374.4 250.9L374.9 251.0L375.4 251.2L375.9 251.4L376.4 251.6L376.9 251.7L377.4 251.7L377.9 251.8L378.4 251.8L378.9 251.9L379.4 252.0L379.9 252.0L380.4 252.1L380.9 252.2L381.4 252.2L381.9 252.2L382.5 252.2L383.0 252.2L383.5 252.2L384.0 252.2L384.5 252.1L385.0 252.1L385.5 252.0L386.0 251.9L386.5 251.8L387.0 251.6L387.5 251.5L388.0 251.3L388.5 251.3L389.0 251.3L389.5 251.2L390.0 251.2L390.5 250.9L391.0 250.6L391.5 250.2L392.0 249.9L392.5 249.7L393.0 249.6L393.5 249.6L394.0 249.5L394.5 249.4L395.0 249.1L395.5 248.8L396.0 248.6L396.5 248.3L397.0 248.2L397.5 248.1L398.0 248.0L398.5 247.9L399.0 247.8L399.5 247.7L400.0 247.5L400.5 247.4L401.0 247.2L401.5 247.2L402.0 247.1L402.5 247.1L403.0 247.0L403.5 247.0L404.0 247.0L404.5 247.0L405.0 247.0L405.5 247.0L406.0 246.9L406.5 246.9L407.0 246.8L407.5 246.7L408.0 246.7L408.5 246.7L409.0 246.7L409.5 246.7L410.0 246.7L410.5 246.9L411.0 247.0L411.5 247.1L412.0 247.3L412.5 247.2L413.0 247.1L413.5 247.0L414.0 246.9L414.5 246.9L415.0 246.8L415.5 246.8L416.0 246.8L416.5 246.8L417.0 247.0L417.5 247.2L418.0 247.4L418.5 247.6L419.0 247.7L419.5 247.8L420.0 247.9L420.5 248.0L421.0 248.2L421.5 248.3L422.0 248.4L422.5 248.5L423.0 248.6L423.5 248.8L424.0 248.9L424.5 249.0L425.0 249.2L425.5 249.3L426.0 249.4L426.5 249.4L427.0 249.5L427.5 249.6L428.0 250.0L428.5 250.3L429.0 250.7L429.5 251.0L430.0 251.1L430.5 251.2L431.0 251.2L431.5 251.3L432.0 251.3L432.5 251.4L433.0 251.5L433.5 251.6L434.0 251.6L434.5 251.4L435.0 251.2L435.5 251.0L436.0 250.7L436.5 250.4L437.0 250.0L437.5 249.6L438.0 249.2L438.5 248.8L439.0 248.7L439.5 248.5L440.0 248.4L440.5 248.3L441.0 247.8L441.5 247.3L442.0 246.9L442.5 246.4L443.0 246.0L443.5 245.9L444.0 245.8L444.5 245.7L445.0 245.7L445.5 245.6L446.0 245.5L446.5 245.4L447.0 245.4L447.5 245.5L448.0 245.6L448.5 245.8L449.0 246.1L449.5 246.4L450.0 246.8L450.5 247.2L451.0 247.7L451.5 248.1L452.0 248.7L452.5 249.3L453.0 249.9L453.5 250.6L454.0 251.1L454.5 251.6L455.0 252.0L455.5 252.4L456.0 252.7L456.5 253.2L457.0 253.7L457.5 254.1L458.0 254.5L458.5 254.8L459.0 255.1L459.5 255.3L460.0 255.5L460.5 255.5L461.0 255.4L461.5 255.1L462.0 254.9L462.5 254.5L463.0 254.2L463.5 253.9L464.0 253.6L464.5 253.2L465.0 252.7L465.5 252.3L466.0 251.8L466.5 251.3L467.0 250.7L467.5 250.1L468.0 249.5L468.5 248.8L469.0 248.2L469.5 247.5L470.0 246.8L470.5 246.2L471.0 245.5L471.5 244.8L472.0 244.0L472.5 243.3L473.0 242.6L473.5 241.9L474.0 241.4L474.5 241.1L475.0 240.9L475.5 240.7L476.0 240.6L476.5 240.5L477.0 240.5L477.5 240.5L478.0 240.6L478.5 240.8L479.0 241.1L479.5 241.5L480.0 241.9L480.5 242.4L481.0 242.9L481.5 243.6L482.0 244.3L482.5 245.0L483.0 245.9L483.5 246.9L484.0 247.8L484.5 248.9L485.0 249.7L485.5 250.6L486.0 251.5L486.5 252.4L487.0 253.4L487.5 254.6L488.0 255.8L488.5 257.1L489.0 258.3L489.5 259.3L490.0 260.4L490.5 261.4L491.0 262.4L491.5 263.3L492.0 264.2L492.5 265.1L493.0 266.0L493.5 266.8L494.0 267.5L494.5 268.2L495.0 268.9L495.5 269.5L496.0 270.1L496.5 270.7L497.0 271.2L497.5 271.6L498.0 272.1L498.5 272.6L499.0 273.1L499.5 273.5L500.0 273.8L500.5 273.8L501.0 273.6L501.5 273.4L502.0 273.2L502.5 273.0L503.0 272.8L503.5 272.6L504.0 272.4L504.5 272.1L505.0 271.7L505.5 271.2L506.0 270.7L506.5 270.2L507.0 269.7L507.5 269.1L508.0 268.5L508.5 267.9L509.0 267.3L509.5 266.9L510.0 266.5L510.5 266.0L511.0 265.6L511.5 264.9L512.0 264.1L512.5 263.4L513.0 262.7L513.5 262.1L514.0 261.7L514.5 261.2L515.0 260.8L515.5 260.4L516.0 260.0L516.5 259.6L517.0 259.2L517.5 258.9L518.0 258.5L518.5 258.1L519.0 257.8L519.5 257.4L520.0 257.1L520.5 256.8L521.0 256.6L521.5 256.3L522.0 256.1L522.5 256.2L523.0 256.3L523.5 256.5L524.0 256.6L524.5 256.7L525.0 256.6L525.5 256.6L526.0 256.6L526.5 256.7L527.0 257.0L527.5 257.3L528.0 257.6L528.5 258.0L529.0 258.1L529.5 258.1L530.0 258.1L530.5 258.2L531.0 258.4L531.5 258.7L532.0 259.1L532.5 259.5L533.0 259.8L533.5 260.1L534.0 260.4L534.5 260.6"/>
<path class="curve" stroke="#00ff00" d="M68.5 254.6L75.8 254.6L79.8 215.0L80.3 210.4L80.8 205.4L81.3 199.6L81.8 192.5L82.3 184.3L82.8 175.3L83.3 166.0L83.8 156.8L84.3 148.1L84.8 140.2L85.3 132.8L85.8 126.0L86.3 119.4L86.8 112.9L87.3 106.4L87.8 99.9L88.3 93.4L88.8 86.9L89.3 80.3L89.8 73.8L90.3 67.2L90.8 60.7L91.3 54.9L91.8 50.6L92.3 48.7L92.8 50.1L93.3 54.3L93.8 59.2L94.3 62.5L94.8 62.4L95.3 58.6L95.8 53.5L96.3 49.2L96.8 46.4L97.3 45.1L97.9 45.2L98.4 46.7L98.9 49.5L99.4 53.4L99.9 58.4L100.4 64.3L100.9 71.0L101.4 78.2L101.9 85.6L102.4 93.0L102.9 100.1L103.4 107.3L103.9 114.8L104.4 123.3L104.9 132.8L105.4 142.9L105.9 153.4L106.4 164.1L106.9 174.7L107.4 185.0L107.9 194.7L108.4 203.7L108.9 211.8L109.4 219.1L109.9 225.6L110.4 231.3L110.9 236.3L111.4 240.6L111.9 244.1L112.4 247.0L112.9 249.2L113.4 250.8L113.9 252.1L114.4 253.0L114.9 253.7L115.4 254.4L115.9 255.0L116.4 255.7L116.9 256.3L117.4 256.9L117.9 257.4L118.4 257.8L118.9 258.0L119.4 258.0L119.9 257.9L120.4 257.4L120.9 256.8L121.4 256.0L121.9 255.0L122.4 253.9L122.9 252.6L123.4 251.2L123.9 249.7L124.4 248.2L124.9 246.5L125.4 244.8L125.9 243.0L126.4 241.1L126.9 239.2L127.4 237.2L127.9 235.3L128.4 233.3L128.9 231.2L129.4 229.2L129.9 227.2L130.4 225.2L130.9 223.2L131.4 221.2L131.9 219.3L132.4 217.4L132.9 215.6L133.4 213.8L134.0 212.2L134.5 210.6L135.0 209.0L135.5 207.7L136.0 206.4L136.5 205.3L137.0 204.3L137.5 203.5L138.0 202.9L138.5 202.5L139.0 202.3L139.5 202.3L140.0 202.6L140.5 203.2L141.0 204.0L141.5 205.0L142.0 206.2L142.5 207.6L143.0 209.2L143.5 211.0L144.0 212.9L144.5 214.9L145.0 217.2L145.5 219.5L146.0 221.9L146.5 224.5L147.0 227.1L147.5 229.7L148.0 232.5L148.5 235.2L149.0 238.0L149.5 240.7L150.0 243.4L150.5 246.1L151.0 248.7L151.5 251.2L152.0 253.6L152.5 255.9L153.0 258.0L153.5 260.0L154.0 261.8L154.5 263.5L155.0 265.0L155.5 266.4L156.0 267.5L156.5 268.6L157.0 269.4L157.5 270.1L158.0 270.6L158.5 270.9L159.0 271.0L159.5 271.0L160.0 270.8L160.5 270.4L161.0 269.8L161.5 269.2L162.0 268.4L162.5 267.5L163.0 266.5L163.5 265.4L164.0 264.3L164.5 263.1L165.0 261.9L165.5 260.7L166.0 259.4L166.5 258.1L167.0 256.9L167.5 255.6L168.0 254.3L168.5 253.1L169.0 251.8L169.5 250.6L170.1 249.4L170.6 248.2L171.1 247.0L171.6 245.9L172.1 244.9L172.6 243.9L173.1 242.9L173.6 242.0L174.1 241.2L174.6 240.4L175.1 239.6L175.6 238.9L176.1 238.3L176.6 237.7L177.1 237.2L177.6 236.8L178.1 236.4L178.6 236.1L179.1 235.9L179.6 235.7L180.1 235.6L180.6 235.6L181.1 235.6L181.6 235.7L182.1 235.9L182.6 236.2L183.1 236.5L183.6 236.9L184.1 237.3L184.6 237.8L185.1 238.3L185.6 238.8L186.1 239.5L186.6 240.1L187.1 240.8L187.6 241.4L188.1 242.2L188.6 242.9L189.1 243.6L189.6 244.4L190.1 245.2L190.6 245.9L191.1 246.7L191.6 247.5L192.1 248.2L192.6 249.0L193.1 249.7L193.6 250.5L194.1 251.2L194.6 251.9L195.1 252.6L195.6 253.3L196.1 253.9L196.6 254.6L197.1 255.2L197.6 255.8L198.1 256.3L198.6 256.8L199.1 257.3L199.6 257.8L200.1 258.2L200.6 258.6L201.1 258.9L201.6 259.2L202.1 259.5L202.6 259.7L203.1 259.8L203.6 259.9L204.1 260.0L204.6 260.0L205.1 259.9L205.6 259.8L206.2 259.7L206.7 259.5L207.2 259.2L207.7 259.0L208.2 258.6L208.7 258.3L209.2 258.0L209.7 257.6L210.2 257.2L210.7 256.8L211.2 256.3L211.7 255.9L212.2 255.5L212.7 255.1L213.2 254.7L213.7 254.3L214.2 253.9L214.7 253.5L215.2 253.1L215.7 252.8L216.2 252.4L216.7 252.1L217.2 251.8L217.7 251.5L218.2 251.2L218.7 250.9L219.2 250.6L219.7 250.3L220.2 250.0L220.7 249.7L221.2 249.5L221.7 249.2L222.2 248.9L222.7 248.6L223.2 248.3L223.7 248.0L224.2 237.6L224.7 228.3L225.2 220.8L225.7 214.8L226.2 209.9L226.7 205.9L227.2 202.2L227.7 198.5L228.2 194.6L228.7 190.6L229.2 186.5L229.7 182.4L230.2 178.4L230.7 174.6L231.2 171.0L231.7 167.7L232.2 164.9L232.7 162.8L233.2 161.5L233.7 161.6L234.2 163.3L234.7 166.9L235.2 172.4L235.7 178.8L236.2 185.0L236.7 190.8L237.2 196.2L237.7 201.0L238.2 205.3L238.7 209.2L239.2 212.9L239.7 216.6L240.2 220.4L240.7 224.5L241.2 229.1L241.7 234.2L242.2 239.9L242.7 246.0L243.2 252.4L243.7 259.1L244.2 265.9L244.7 272.8L245.2 279.6L245.7 286.2L246.2 292.6L246.7 298.6L247.2 304.4L247.7 309.7L248.2 314.8L248.7 319.5L249.2 323.8L249.7 327.8L250.2 331.5L250.7 334.8L251.2 337.7L251.7 340.3L252.2 342.6L252.7 344.5L253.2 346.1L253.7 347.3L254.2 348.2L254.7 348.8L255.2 349.0L255.7 349.0L256.2 348.6L256.7 347.8L257.2 346.8L257.7 345.5L258.2 343.9L258.7 342.0L259.2 339.8L259.7 337.4L260.2 334.7L260.7 331.8L261.2 328.6L261.7 325.2L262.2 321.6L262.7 317.9L263.2 313.9L263.7 309.9L264.2 305.7L264.7 301.4L265.2 297.0L265.7 292.6L266.2 288.1L266.7 283.6L267.2 279.2L267.7 274.7L268.2 270.4L268.7 266.1L269.2 261.9L269.7 257.9L270.2 254.1L270.7 250.4L271.2 246.9L271.7 243.7L272.2 240.8L272.7 238.1L273.2 235.7L273.7 233.6L274.2 231.7L274.7 230.1L275.2 228.7L275.7 227.6L276.2 226.8L276.7 226.2L277.2 225.8L277.7 225.7L278.2 225.8L278.7 226.2L279.2 226.8L279.7 227.5L280.2 228.6L280.7 229.8L281.2 231.2L281.7 232.8L282.2 234.6L282.7 236.6L283.2 238.7L283.7 241.0L284.2 243.5L284.7 246.2L285.2 249.0L285.7 251.9L286.2 254.9L286.7 257.9L287.2 261.0L287.7 264.1L288.2 267.2L288.7 270.2L289.2 273.2L289.7 276.0L290.2 278.8L290.7 281.3L291.2 283.8L291.7 285.9L292.2 287.9L292.7 289.7L293.2 291.3L293.7 292.6L294.2 293.8L294.7 294.8L295.2 295.6L295.7 296.2L296.2 296.6L296.7 296.9L297.2 297.0L297.7 297.0L298.2 296.8L298.7 296.5L299.2 296.1L299.7 295.5L300.2 294.9L300.7 294.1L301.2 293.2L301.7 292.2L302.2 291.2L302.7 290.1L303.2 288.9L303.7 287.7L304.2 286.4L304.7 285.1L305.2 283.8L305.7 282.4L306.2 281.0L306.7 279.5L307.2 278.1L307.7 276.7L308.2 275.2L308.7 273.8L309.2 272.4L309.7 271.0L310.2 269.6L310.7 268.3L311.2 266.9L311.7 265.7L312.2 264.4L312.7 263.3L313.2 262.1L313.7 261.1L314.2 260.0L314.7 259.1L315.2 258.2L315.7 257.3L316.2 256.5L316.7 255.8L317.2 255.1L317.7 254.5L318.2 253.9L318.7 253.4L319.2 253.0L319.7 252.7L320.2 252.4L320.7 252.1L321.2 252.0L321.7 251.9L322.2 251.8L322.7 251.8L323.2 251.9L323.7 252.0L324.2 252.2L324.7 252.5L325.2 252.8L325.7 253.2L326.2 253.6L326.7 254.1L327.2 254.6L327.7 255.2L328.2 255.8L328.7 256.4L329.2 257.0L329.7 257.7L330.2 258.3L330.7 259.0L331.2 259.7L331.7 260.4L332.2 261.1L332.7 261.9L333.2 262.6L333.7 263.4L334.2 264.1L334.7 264.8L335.2 265.5L335.7 266.2L336.2 266.8L336.7 267.4L337.2 268.0L337.7 268.5L338.2 269.1L338.7 269.5L339.2 269.9L339.7 270.1L340.2 270.3L340.7 270.3L341.2 270.3L341.7 270.3L342.2 270.2L342.7 270.1L343.2 270.0L343.7 269.7L344.2 269.3L344.7 268.7L345.2 268.1L345.7 267.5L346.2 266.9L346.7 266.3L347.2 265.6L347.7 265.0L348.2 264.3L348.7 263.6L349.2 262.8L349.7 262.1L350.2 261.4L350.7 260.8L351.2 260.3L351.7 259.7L352.2 259.2L352.7 258.7L353.2 258.4L353.7 258.0L354.2 257.7L354.7 257.4L355.2 256.9L355.7 256.4L356.2 255.9L356.7 255.5L357.2 255.0L357.7 254.6L358.2 254.2L358.7 253.8L359.2 253.4L359.7 253.2L360.2 253.0L360.7 252.9L361.2 252.7L361.7 252.5L362.2 252.3L362.7 252.1L363.2 251.9L363.7 251.8L364.2 251.7L364.7 251.6L365.2 251.6L365.7 251.5L366.2 251.4L366.7 251.2L367.2 251.1L367.7 251.0L368.2 251.0L368.7 251.1L369.2 251.3L369.7 251.4L370.2 251.6L370.7 251.5L371.2 251.4L371.7 251.3L372.2 251.3L372.7 251.4L373.2 251.5L373.7 251.7L374.2 251.9L374.7 252.0L375.2 252.1L375.7 252.1L376.2 252.2L376.7 252.2L377.2 252.3L377.7 252.3L378.2 252.3L378.8 252.3L379.3 252.3L379.8 252.3L380.3 252.3L380.8 252.3L381.3 252.3L381.8 252.1L382.3 251.8L382.8 251.6L383.3 251.3L383.8 251.2L384.3 251.1L384.8 251.0L385.3 250.9L385.8 250.7L386.3 250.5L386.8 250.3L387.3 250.1L387.8 249.9L388.3 249.7L388.8 249.6L389.3 249.4L389.8 249.3L390.3 249.1L390.8 248.8L391.3 248.5L391.8 248.3L392.3 248.0L392.8 247.8L393.3 247.7L393.8 247.5L394.3 247.3L394.8 247.1L395.3 246.9L395.8 246.8L396.3 246.6L396.8 246.4L397.3 246.4L397.8 246.3L398.3 246.2L398.8 246.1L399.3 245.8L399.8 245.4L400.3 245.0L400.8 244.5L401.3 244.2L401.8 243.9L402.3 243.7L402.8 243.4L403.3 243.2L403.8 242.8L404.3 242.5L404.8 242.1L405.3 241.8L405.8 241.4L406.3 241.1L406.8 240.8L407.3 240.4L407.8 240.2L408.3 240.0L408.8 239.8L409.3 239.7L409.8 239.6L410.3 239.6L410.8 239.6L411.3 239.6L411.8 239.7L412.3 239.8L412.8 239.9L413.3 240.1L413.8 240.3L414.3 240.5L414.8 240.7L415.3 240.9L415.8 241.1L416.3 241.3L416.8 241.6L417.3 241.8L417.8 242.0L418.3 242.3L418.8 242.6L419.3 242.9L419.8 243.2L420.3 243.5L420.8 243.9L421.3 244.1L421.8 244.3L422.3 244.5L422.8 244.7L423.3 245.0L423.8 245.3L424.3 245.6L424.8 245.8L425.3 246.0L425.8 246.1L426.3 246.1L426.8 246.2L427.3 246.2L427.8 246.3L428.3 246.5L428.8 246.7L429.3 246.9L429.8 247.0L430.3 246.9L430.8 246.8L431.3 246.7L431.8 246.6L432.3 246.7L432.8 246.8L433.3 246.8L433.8 246.9L434.3 246.8L434.8 246.8L435.3 246.7L435.8 246.5L436.3 246.4L436.8 246.3L437.3 246.1L437.8 245.9L438.3 245.7L438.8 245.4L439.3 245.0L439.8 244.7L440.3 244.3L440.8 244.0L441.3 243.7L441.8 243.4L442.3 243.1L442.8 242.9L443.3 242.6L443.8 242.4L444.3 242.2L444.8 242.0L445.3 241.9L445.8 241.8L446.3 241.7L446.8 241.8L447.3 241.9L447.8 242.1L448.3 242.4L448.8 242.8L449.3 243.2L449.8 243.6L450.3 244.1L450.8 244.6L451.3 245.1L451.8 245.7L452.3 246.2L452.8 246.7L453.3 247.2L453.8 247.7L454.3 248.2L454.8 248.7L455.3 249.2L455.8 249.6L456.3 250.0L456.8 250.4L457.3 250.7L457.8 251.0L458.3 251.2L458.8 251.6L459.3 251.9L459.8 252.2L460.3 252.5L460.8 252.5L461.3 252.5L461.8 252.4L462.3 252.3L462.8 252.2L463.3 252.0L463.8 251.7L464.3 251.4L464.8 251.1L465.3 250.8L465.8 250.4L466.3 250.0L466.8 249.5L467.3 248.8L467.8 247.9L468.3 247.0L468.8 246.0L469.3 245.1L469.8 244.4L470.3 243.6L470.8 242.9L471.3 242.2L471.8 241.5L472.3 240.8L472.8 240.2L473.3 239.6L473.8 239.1L474.3 238.8L474.8 238.6L475.3 238.4L475.8 238.3L476.3 238.2L476.8 238.1L477.3 238.1L477.8 238.1L478.3 238.1L478.8 238.2L479.3 238.3L479.8 238.5L480.3 238.7L480.8 238.9L481.3 239.1L481.8 239.4L482.3 239.8L482.8 240.3L483.3 240.8L483.8 241.5L484.3 242.2L484.8 243.1L485.3 244.0L485.8 245.0L486.3 246.1L486.8 247.3L487.3 248.5L487.8 249.7L488.3 251.0L488.8 252.2L489.3 253.5L489.8 254.8L490.3 256.0L490.8 257.2L491.3 258.4L491.8 259.5L492.3 260.5L492.8 261.5L493.3 262.5L493.8 263.6L494.3 264.6L494.8 265.7L495.3 266.6L495.8 267.4L496.3 268.0L496.8 268.5L497.3 268.9L497.8 269.3L498.3 269.8L498.8 270.2L499.3 270.6L499.8 270.9L500.3 271.2L500.8 271.5L501.3 271.8L501.8 272.0L502.3 272.2L502.8 272.3L503.3 272.4L503.8 272.4L504.3 272.4L504.8 272.4L505.3 272.4L505.8 272.3L506.3 272.2L506.8 272.1L507.3 271.9L507.8 271.6L508.3 271.3L508.8 271.0L509.3 270.8L509.8 270.5L510.3 270.3L510.8 269.9L511.3 269.5L511.8 269.1L512.3 268.6L512.8 268.1L513.3 267.5L513.8 266.7L514.3 265.8L514.8 264.9L515.3 264.0L515.8 263.2L516.3 262.5L516.8 261.7L517.3 261.1L517.8 260.4L518.3 259.6L518.8 258.9L519.3 258.4L519.8 258.0L520.3 258.0L520.8 258.2L521.3 258.5L521.8 259.0L522.3 259.4L522.8 259.7L523.3 260.2L523.8 260.7L524.3 261.2L524.8 261.9L525.3 262.5L525.8 263.1L526.3 263.7L526.8 264.2L527.3 264.6L527.8 264.9L528.3 265.1L528.8 265.1L529.3 265.2L529.8 265.0L530.3 264.7L530.8 264.1L531.3 263.2L531.8 262.1L532.3 260.9L532.8 259.6L533.3 258.2L533.8 256.8"/>
</g>
<!-- axes box -->
<g stroke="#333" stroke-width="0.85" fill="none">
<path d="M68.75 13.80H534.80V375.40H68.75Z"/>
<path d="M146.43 375.40v-4.7M224.10 375.40v-4.7M301.77 375.40v-4.7M379.45 375.40v-4.7M457.12 375.40v-4.7"/>
<path d="M146.43 13.80v4.7M224.10 13.80v4.7M301.77 13.80v4.7M379.45 13.80v4.7M457.12 13.80v4.7"/>
<path d="M68.75 74.07h4.7M68.75 134.33h4.7M68.75 194.60h4.7M68.75 254.87h4.7M68.75 315.13h4.7"/>
<path d="M534.80 74.07h-4.7M534.80 134.33h-4.7M534.80 194.60h-4.7M534.80 254.87h-4.7M534.80 315.13h-4.7"/>
</g>
<g class="tick" text-anchor="end">
<text x="61.1" y="21.1">80</text>
<text x="61.1" y="81.4">60</text>
<text x="61.1" y="141.6">40</text>
<text x="61.1" y="201.9">20</text>
<text x="61.1" y="262.2">0</text>
<text x="61.1" y="322.4">-20</text>
<text x="61.1" y="382.7">-40</text>
</g>
<g class="tick" text-anchor="middle">
<text x="68.7" y="400.7">0</text>
<text x="146.3" y="400.7">4</text>
<text x="224.0" y="400.7">8</text>
<text x="301.7" y="400.7">12</text>
<text x="379.3" y="400.7">16</text>
<text x="457.0" y="400.7">20</text>
<text x="534.7" y="400.7">24</text>
</g>
<text class="ser thick" x="301" y="425.3" font-size="20.5" text-anchor="middle" textLength="61.6" lengthAdjust="spacingAndGlyphs">time(s)</text>
<g class="ser thick" style="stroke-width:0.15px" transform="translate(20.7,211.6) rotate(-90)"><text x="-2.1" y="0" font-style="italic" font-size="17.5" transform="scale(1.08,1)">e</text><text x="8.2" y="2.3" font-style="italic" font-size="15.5">i</text><text transform="translate(13.8,2.3) scale(0.82,1)" font-size="23">(</text><text transform="translate(20.6,0) scale(1.3,1)" font-style="italic" font-size="18.5">t</text><text transform="translate(28.4,2.3) scale(0.82,1)" font-size="23">)</text></g>
<!-- legend -->
<rect x="432.6" y="24.7" width="91" height="86.8" fill="#fff" stroke="#3a3a3a" stroke-width="0.9"/>
<g stroke-width="2.2" fill="none">
<path stroke="#ff0000" d="M437.5 37.2H480.4"/>
<path stroke="#0000ff" d="M437.5 58H480.4"/>
<path stroke="#ff00ff" d="M437.5 78.8H480.4"/>
<path stroke="#00ff00" d="M437.5 99.6H480.4"/>
</g>
<g class="ser thick">
<text transform="translate(484,41.4) scale(1.12,1)" font-size="15.5" font-style="italic">e</text><text x="492.2" y="41.4" font-size="16.4">1</text><text transform="translate(500.3,42.2) scale(0.8,1)" font-size="19.5">(</text><text transform="translate(506,41.4) scale(1.3,1)" font-size="16.5" font-style="italic">t</text><text transform="translate(513.8,42.2) scale(0.8,1)" font-size="19.5">)</text>
<text transform="translate(484,62.2) scale(1.12,1)" font-size="15.5" font-style="italic">e</text><text x="492.2" y="62.2" font-size="16.4">2</text><text transform="translate(500.3,63.0) scale(0.8,1)" font-size="19.5">(</text><text transform="translate(506,62.2) scale(1.3,1)" font-size="16.5" font-style="italic">t</text><text transform="translate(513.8,63.0) scale(0.8,1)" font-size="19.5">)</text>
<text transform="translate(484,83.0) scale(1.12,1)" font-size="15.5" font-style="italic">e</text><text x="492.2" y="83.0" font-size="16.4">3</text><text transform="translate(500.3,83.8) scale(0.8,1)" font-size="19.5">(</text><text transform="translate(506,83.0) scale(1.3,1)" font-size="16.5" font-style="italic">t</text><text transform="translate(513.8,83.8) scale(0.8,1)" font-size="19.5">)</text>
<text transform="translate(484,103.8) scale(1.12,1)" font-size="15.5" font-style="italic">e</text><text x="492.2" y="103.8" font-size="16.4">4</text><text transform="translate(500.3,104.6) scale(0.8,1)" font-size="19.5">(</text><text transform="translate(506,103.8) scale(1.3,1)" font-size="16.5" font-style="italic">t</text><text transform="translate(513.8,104.6) scale(0.8,1)" font-size="19.5">)</text>
</g>
</svg>
</body></html>
